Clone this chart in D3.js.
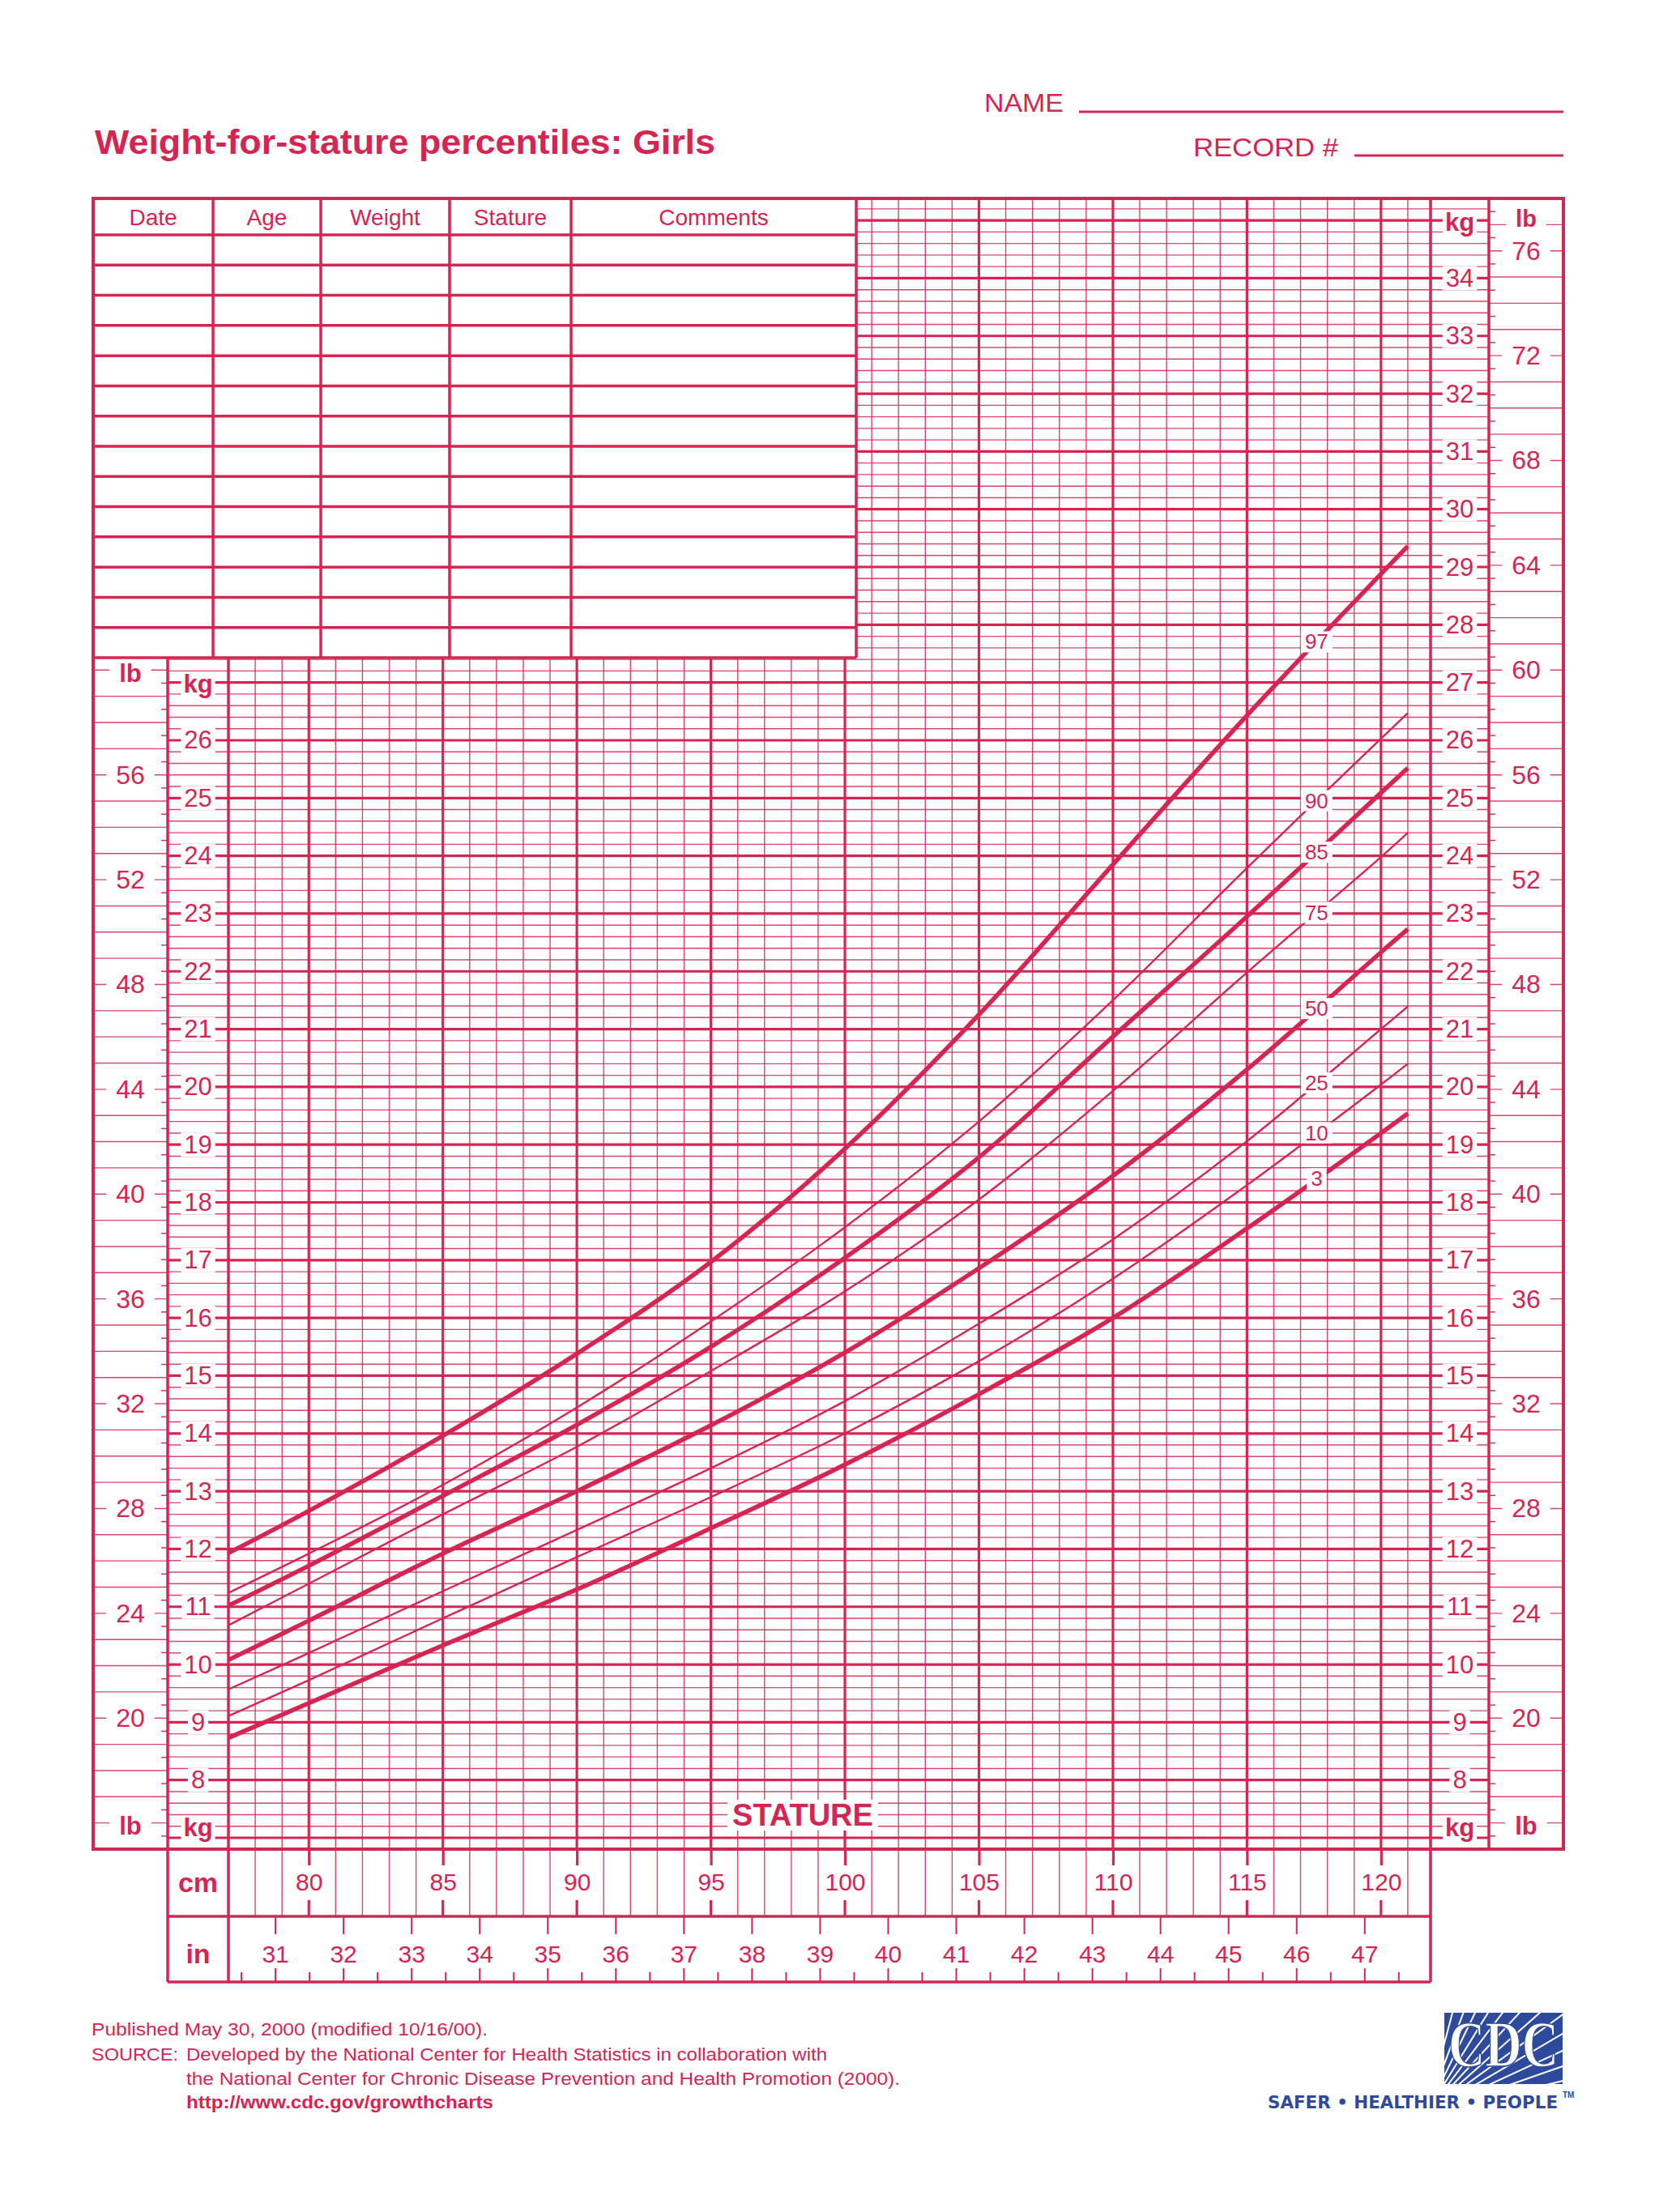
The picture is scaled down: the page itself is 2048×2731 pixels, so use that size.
<!DOCTYPE html>
<html>
<head>
<meta charset="utf-8">
<script src="https://cdn.jsdelivr.net/npm/d3@7"></script>
<style>
html, body { margin: 0; padding: 0; background: #fff; }
svg { display: block; font-family: "Liberation Sans", Arial, Helvetica, sans-serif; }
</style>
</head>
<body>
<div id="chart"></div>
<script>
// Weight-for-stature percentiles: Girls (CDC 2000)

// stature (cm) where the curves were read
const statureCm = [77, 80, 85, 90, 95, 100, 105, 110, 115, 120, 121];

// weight (kg) per percentile
const p97 = [11.93, 12.66, 13.96, 15.38, 16.97, 18.93, 21.25, 23.85, 26.43, 28.88, 29.36];
const p90 = [11.24, 11.92, 13.11, 14.45, 15.94, 17.57, 19.40, 21.50, 23.79, 26.03, 26.47];
const p85 = [11.02, 11.71, 12.92, 14.15, 15.50, 17.04, 18.78, 20.87, 22.95, 25.09, 25.52];
const p75 = [10.68, 11.40, 12.60, 13.77, 15.08, 16.46, 18.05, 19.93, 21.98, 23.98, 24.40];
const p50 = [10.08, 10.76, 11.92, 13.00, 14.14, 15.40, 16.86, 18.46, 20.30, 22.33, 22.73];
const p25 = [9.57, 10.20, 11.27, 12.33, 13.40, 14.56, 15.90, 17.36, 19.06, 21.00, 21.39];
const p10 = [9.11, 9.73, 10.80, 11.86, 12.90, 14.00, 15.25, 16.68, 18.30, 20.04, 20.40];
const p3  = [8.73, 9.33, 10.33, 11.30, 12.36, 13.46, 14.68, 16.00, 17.55, 19.20, 19.54];

const percentileNames = ['97', '90', '85', '75', '50', '25', '10', '3'];
const percentileValues = [p97, p90, p85, p75, p50, p25, p10, p3];
const heavyPercentiles = ['97', '85', '50', '3'];
const labelStature = 117.6;

// axis labels
const cmLabels = [80, 85, 90, 95, 100, 105, 110, 115, 120];
const inLabels = [31, 32, 33, 34, 35, 36, 37, 38, 39, 40, 41, 42, 43, 44, 45, 46, 47];
const kgLabelsLeft = [8, 9, 10, 11, 12, 13, 14, 15, 16, 17, 18, 19, 20, 21, 22, 23, 24, 25, 26];
const kgLabelsRight = [8, 9, 10, 11, 12, 13, 14, 15, 16, 17, 18, 19, 20, 21, 22, 23, 24, 25, 26, 27, 28, 29, 30, 31, 32, 33, 34];
const lbLabelsLeft = [20, 24, 28, 32, 36, 40, 44, 48, 52, 56];
const lbLabelsRight = [20, 24, 28, 32, 36, 40, 44, 48, 52, 56, 60, 64, 68, 72, 76];
const tableHeaders = ['Date', 'Age', 'Weight', 'Stature', 'Comments'];
const footerLines = [
    'Published May 30, 2000 (modified 10/16/00).',
    'Developed by the National Center for Health Statistics in collaboration with',
    'the National Center for Chronic Disease Prevention and Health Promotion (2000).',
    'http://www.cdc.gov/growthcharts'
];

const C = '#d42553';
const BLUE = '#2e4a9c';
const LB = 0.45359237;

// page geometry
const W = 2048, H = 2731;
const FRAME_L = 115, FRAME_R = 1930, FRAME_T = 245;
const KG_L = 207, GRID_L = 282, GRID_R = 1766, KG_R = 1838;
const GRID_B = 2283, CM_B = 2366, IN_B = 2447;
const TABLE_R = 1057, TABLE_B = 812, TABLE_HEAD_B = 290;
const tableCols = [FRAME_L, 263, 396, 555, 705, TABLE_R];

const svg = d3.select('#chart').append('svg')
    .attr('width', W)
    .attr('height', H)
    .attr('viewBox', `0 0 ${W} ${H}`);

svg.append('rect').attr('width', W).attr('height', H).attr('fill', '#fff');

const x = d3.scaleLinear().domain([77, 121.85]).range([GRID_L, GRID_R]);
const xIn = d3.scaleLinear().domain(x.domain().map(v => v / 2.54)).range(x.range());
const y = d3.scaleLinear().domain([15 * LB, 78 * LB]).range([GRID_B, FRAME_T]);
const yLb = d3.scaleLinear().domain([15, 78]).range([GRID_B, FRAME_T]);

const isInt = v => Math.abs(v - Math.round(v)) < 1e-6;

function hline(g, x1, x2, yy, w, op) {
    g.append('line').attr('x1', x1).attr('x2', x2).attr('y1', yy).attr('y2', yy)
        .attr('stroke', C).attr('stroke-width', w).attr('stroke-opacity', op || 1);
}
function vline(g, xx, y1, y2, w, op) {
    g.append('line').attr('x1', xx).attr('x2', xx).attr('y1', y1).attr('y2', y2)
        .attr('stroke', C).attr('stroke-width', w).attr('stroke-opacity', op || 1);
}

// text with a white box behind, so lines underneath break around it
function boxedLabel(g, txt, cx, cy, size, weight, padX, boxH) {
    const lg = g.append('g');
    const t = lg.append('text')
        .attr('x', cx).attr('y', cy)
        .attr('text-anchor', 'middle')
        .attr('dominant-baseline', 'central')
        .attr('font-size', size)
        .attr('font-weight', weight)
        .attr('fill', C)
        .text(txt);
    const bb = t.node().getBBox();
    lg.insert('rect', 'text')
        .attr('x', bb.x - padX).attr('width', bb.width + 2 * padX)
        .attr('y', cy - boxH / 2).attr('height', boxH)
        .attr('fill', '#fff');
    return lg;
}

// ---------- grid ----------
const grid = svg.append('g').attr('class', 'grid');

const kgLines = d3.range(35, 177).map(k => k / 5);
kgLines.forEach(v => {
    const yy = y(v);
    const x1 = yy < TABLE_B ? TABLE_R : KG_L;
    hline(grid, x1, KG_R, yy, isInt(v) ? 3.2 : 1.4, isInt(v) ? 1 : 0.85);
});

const cmLines = d3.range(78, 122);
cmLines.forEach(c => {
    const xx = x(c);
    const y1 = xx > TABLE_R ? FRAME_T : TABLE_B;
    const major = c % 5 === 0;
    vline(grid, xx, y1, GRID_B, major ? 3.2 : 1.4, major ? 1 : 0.85);
});

// lb columns: line every pound, short tick every half pound
const lbCols = svg.append('g').attr('class', 'lb-cols');
d3.range(16, 78).forEach(lb => {
    const yy = yLb(lb);
    if (yy > TABLE_B) hline(lbCols, FRAME_L, KG_L, yy, 1.4, 0.85);
    hline(lbCols, KG_R, FRAME_R, yy, 1.4, 0.85);
});
d3.range(15.5, 78, 1).forEach(lb => {
    const yy = yLb(lb);
    if (yy > TABLE_B) hline(lbCols, KG_L - 8, KG_L, yy, 1.4);
    hline(lbCols, KG_R, KG_R + 8, yy, 1.4);
});

// ---------- frames and table ----------
const frame = svg.append('g').attr('class', 'frame');
frame.append('rect')
    .attr('x', FRAME_L).attr('y', FRAME_T)
    .attr('width', FRAME_R - FRAME_L).attr('height', GRID_B - FRAME_T)
    .attr('fill', 'none').attr('stroke', C).attr('stroke-width', 4);

const rowH = (TABLE_B - TABLE_HEAD_B) / 14;
d3.range(0, 15).forEach(i => hline(frame, FRAME_L, TABLE_R, TABLE_HEAD_B + i * rowH, 3.5));
tableCols.slice(1).forEach(cx => vline(frame, cx, FRAME_T, TABLE_B, 3.5));

vline(frame, KG_L, TABLE_B, IN_B, 3.5);
vline(frame, GRID_L, TABLE_B, IN_B, 3.5);
vline(frame, GRID_R, FRAME_T, IN_B, 3.5);
vline(frame, KG_R, FRAME_T, GRID_B, 3.5);
hline(frame, KG_L, GRID_R, CM_B, 3.5);
hline(frame, KG_L, GRID_R, IN_B, 3.5);

frame.selectAll('text.head')
    .data(tableHeaders)
    .join('text')
    .attr('class', 'head')
    .attr('x', (d, i) => (tableCols[i] + tableCols[i + 1]) / 2)
    .attr('y', 278)
    .attr('text-anchor', 'middle')
    .attr('font-size', 28)
    .attr('fill', C)
    .text(d => d);

// ---------- curves ----------
const curveLine = d3.line()
    .x(d => x(d[0]))
    .y(d => y(d[1]))
    .curve(d3.curveCatmullRom.alpha(0.5));

const curves = svg.append('g').attr('class', 'curves');
percentileNames.forEach((name, i) => {
    const pts = statureCm.map((s, j) => [s, percentileValues[i][j]]);
    curves.append('path')
        .attr('d', curveLine(pts))
        .attr('fill', 'none')
        .attr('stroke', C)
        .attr('stroke-width', heavyPercentiles.includes(name) ? 5.5 : 2.4);
});
percentileNames.forEach((name, i) => {
    const interp = d3.scaleLinear().domain(statureCm).range(percentileValues[i]);
    boxedLabel(curves, name, x(labelStature), y(interp(labelStature)), 26, 'normal', 5, 26);
});

// ---------- weight axes ----------
const axes = svg.append('g').attr('class', 'weight-axes');
const kgLeftX = (KG_L + GRID_L) / 2, kgRightX = (GRID_R + KG_R) / 2;
const lbLeftX = (FRAME_L + KG_L) / 2, lbRightX = (KG_R + FRAME_R) / 2;

kgLabelsLeft.forEach(v => boxedLabel(axes, v, kgLeftX, y(v), 31, 'normal', 4, 30));
kgLabelsRight.forEach(v => boxedLabel(axes, v, kgRightX, y(v), 31, 'normal', 4, 30));
lbLabelsLeft.forEach(v => boxedLabel(axes, v, lbLeftX, yLb(v), 32, 'normal', 12, 28));
lbLabelsRight.forEach(v => boxedLabel(axes, v, lbRightX, yLb(v), 32, 'normal', 12, 28));

boxedLabel(axes, 'kg', kgLeftX, y(27) + 2, 31, 'bold', 3, 30);
boxedLabel(axes, 'kg', kgRightX, y(35) + 2, 31, 'bold', 3, 30);
boxedLabel(axes, 'kg', kgLeftX, y(7.2) + 2, 31, 'bold', 3, 30);
boxedLabel(axes, 'kg', kgRightX, y(7.2) + 2, 31, 'bold', 3, 30);
boxedLabel(axes, 'lb', lbLeftX, yLb(60) + 4, 31, 'bold', 12, 28);
boxedLabel(axes, 'lb', lbRightX, yLb(77) - 7, 29, 'bold', 12, 26);
boxedLabel(axes, 'lb', lbLeftX, yLb(16) + 4, 31, 'bold', 12, 28);
boxedLabel(axes, 'lb', lbRightX, yLb(16) + 4, 31, 'bold', 12, 28);

boxedLabel(axes, 'STATURE', 991, 2241, 38, 'bold', 6, 38);

// ---------- stature axes ----------
const cmRow = svg.append('g').attr('class', 'cm-axis');
cmLines.filter(c => c % 5 !== 0).forEach(c => vline(cmRow, x(c), GRID_B, CM_B, 1.4, 0.85));
const cmAxis = cmRow.append('g')
    .attr('transform', `translate(0,${GRID_B})`)
    .call(d3.axisBottom(x).tickValues(cmLabels).tickSize(20).tickPadding(10).tickFormat(d3.format('d')));
cmLabels.forEach(c => vline(cmRow, x(c), CM_B - 20, CM_B, 3.2));

const inRow = svg.append('g').attr('class', 'in-axis');
const inTop = inRow.append('g')
    .attr('transform', `translate(0,${CM_B})`)
    .call(d3.axisBottom(xIn).tickValues(inLabels).tickSize(22).tickPadding(14).tickFormat(d3.format('d')));
const inBottom = inRow.append('g')
    .attr('transform', `translate(0,${IN_B})`)
    .call(d3.axisTop(xIn).tickValues(inLabels).tickSize(17).tickFormat(''));
const inHalf = inRow.append('g')
    .attr('transform', `translate(0,${IN_B})`)
    .call(d3.axisTop(xIn).tickValues(d3.range(30.5, 48, 1)).tickSize(12).tickFormat(''));

[cmAxis, inTop, inBottom, inHalf].forEach(a => {
    a.select('.domain').remove();
    a.selectAll('.tick line').attr('stroke', C).attr('stroke-width', a === cmAxis ? 3.2 : 2);
    a.selectAll('.tick text')
        .attr('fill', C)
        .attr('font-size', 30)
        .attr('font-family', '"Liberation Sans", Arial, sans-serif');
});

svg.append('text').attr('x', kgLeftX).attr('y', 2336).attr('text-anchor', 'middle')
    .attr('font-size', 34).attr('font-weight', 'bold').attr('fill', C).text('cm');
svg.append('text').attr('x', kgLeftX).attr('y', 2424).attr('text-anchor', 'middle')
    .attr('font-size', 34).attr('font-weight', 'bold').attr('fill', C).text('in');

// ---------- header ----------
const header = svg.append('g').attr('class', 'header');
header.append('text')
    .attr('x', 117).attr('y', 190)
    .attr('font-size', 42).attr('font-weight', 'bold').attr('fill', C)
    .attr('textLength', 766).attr('lengthAdjust', 'spacingAndGlyphs')
    .text('Weight-for-stature percentiles: Girls');
header.append('text')
    .attr('x', 1215).attr('y', 138)
    .attr('font-size', 31).attr('fill', C)
    .attr('textLength', 98).attr('lengthAdjust', 'spacingAndGlyphs')
    .text('NAME');
hline(header, 1332, FRAME_R, 138, 3);
header.append('text')
    .attr('x', 1473).attr('y', 193)
    .attr('font-size', 31).attr('fill', C)
    .attr('textLength', 179).attr('lengthAdjust', 'spacingAndGlyphs')
    .text('RECORD #');
hline(header, 1672, FRAME_R, 192, 3);

// ---------- footer ----------
const footer = svg.append('g').attr('class', 'footer').attr('fill', C).attr('font-size', 22);
footer.append('text').attr('x', 113).attr('y', 2513)
    .attr('textLength', 489).attr('lengthAdjust', 'spacingAndGlyphs').text(footerLines[0]);
footer.append('text').attr('x', 113).attr('y', 2544)
    .attr('textLength', 107).attr('lengthAdjust', 'spacingAndGlyphs').text('SOURCE:');
footer.append('text').attr('x', 230).attr('y', 2544)
    .attr('textLength', 791).attr('lengthAdjust', 'spacingAndGlyphs').text(footerLines[1]);
footer.append('text').attr('x', 230).attr('y', 2574)
    .attr('textLength', 881).attr('lengthAdjust', 'spacingAndGlyphs').text(footerLines[2]);
footer.append('text').attr('x', 230).attr('y', 2603).attr('font-weight', 'bold')
    .attr('textLength', 379).attr('lengthAdjust', 'spacingAndGlyphs').text(footerLines[3]);

// ---------- CDC logo ----------
const logo = svg.append('g').attr('class', 'logo');
logo.append('clipPath').attr('id', 'logo-clip')
    .append('rect').attr('x', 1783).attr('y', 2485).attr('width', 146).attr('height', 88);
logo.append('rect').attr('x', 1783).attr('y', 2485).attr('width', 146).attr('height', 88).attr('fill', BLUE);
const rays = logo.append('g').attr('clip-path', 'url(#logo-clip)');
d3.range(0, 15).forEach(i => {
    const a = (8 + i * 5.6) * Math.PI / 180;
    rays.append('line')
        .attr('x1', 1760).attr('y1', 2610)
        .attr('x2', 1760 + Math.cos(a) * 400).attr('y2', 2610 - Math.sin(a) * 400)
        .attr('stroke', '#fff').attr('stroke-width', 2);
});
logo.append('text')
    .attr('x', 1788).attr('y', 2551)
    .attr('font-family', '"Liberation Serif", "DejaVu Serif", serif')
    .attr('font-size', 80).attr('font-weight', 'bold')
    .attr('fill', '#fff').attr('stroke', BLUE).attr('stroke-width', 1.5)
    .attr('textLength', 136).attr('lengthAdjust', 'spacingAndGlyphs')
    .text('CDC');
logo.append('text')
    .attr('x', 1565).attr('y', 2603)
    .attr('font-family', '"DejaVu Sans", sans-serif')
    .attr('font-size', 22).attr('font-weight', 'bold').attr('fill', BLUE)
    .attr('textLength', 358).attr('lengthAdjust', 'spacingAndGlyphs')
    .text('SAFER \u2022 HEALTHIER \u2022 PEOPLE');
logo.append('text')
    .attr('x', 1929).attr('y', 2590)
    .attr('font-size', 10).attr('font-weight', 'bold').attr('fill', BLUE)
    .text('TM');
</script>
</body>
</html>
